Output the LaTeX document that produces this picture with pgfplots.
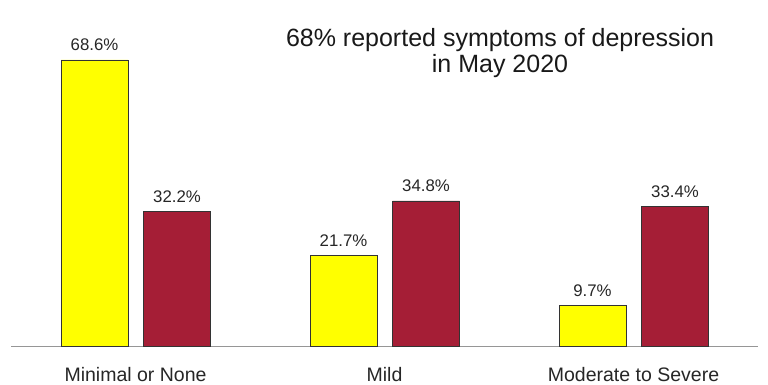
\documentclass[border=0pt]{standalone}
\usepackage{pgfplots}
\pgfplotsset{compat=1.18}
\usepackage{fontspec}
\setmainfont{Liberation Sans}
\definecolor{crimson}{RGB}{165,30,54}
\definecolor{yel}{RGB}{255,255,0}
\definecolor{baseg}{RGB}{150,150,150}
\begin{document}
\begin{tikzpicture}
\begin{axis}[
  scale only axis, width=747bp, height=346bp,
  xmin=-0.5, xmax=2.5, ymin=0, ymax=82.97,
  axis x line*=bottom, axis y line=none,
  x axis line style={-, baseg, line width=0.9bp},
  xtick=data, xticklabels={Minimal or None, Mild, Moderate to Severe},
  xtick style={draw=none},
  xticklabel style={anchor=base, yshift=-31bp, font=\fontsize{19.5bp}{23bp}\selectfont, text=black!85},
  ybar, bar width=67bp,
  /pgf/number format/assume math mode=true,
  nodes near coords={\pgfmathprintnumber[fixed,precision=1,fixed zerofill,assume math mode=true]{\pgfplotspointmeta}\%},
  nodes near coords style={anchor=base, yshift=9bp, font=\fontsize{16.8bp}{20bp}\selectfont, text=black!85},
  clip=false,
]
\addplot[fill=yel, draw=black!80, line width=0.6bp, bar shift=-41bp] coordinates {(0,68.6) (1,21.7) (2,9.7)};
\addplot[fill=crimson, draw=black!80, line width=0.6bp, bar shift=41.5bp] coordinates {(0,32.2) (1,34.8) (2,33.4)};
\end{axis}
\node[anchor=base, font=\fontsize{25bp}{28bp}\selectfont, text=black!90] at (489bp,299bp) {68\% reported symptoms of depression};
\node[anchor=base, font=\fontsize{25bp}{28bp}\selectfont, text=black!90] at (489bp,273bp) {in May 2020};
\path (-11bp,-39bp) rectangle (757bp,346bp);
\end{tikzpicture}
\end{document}
